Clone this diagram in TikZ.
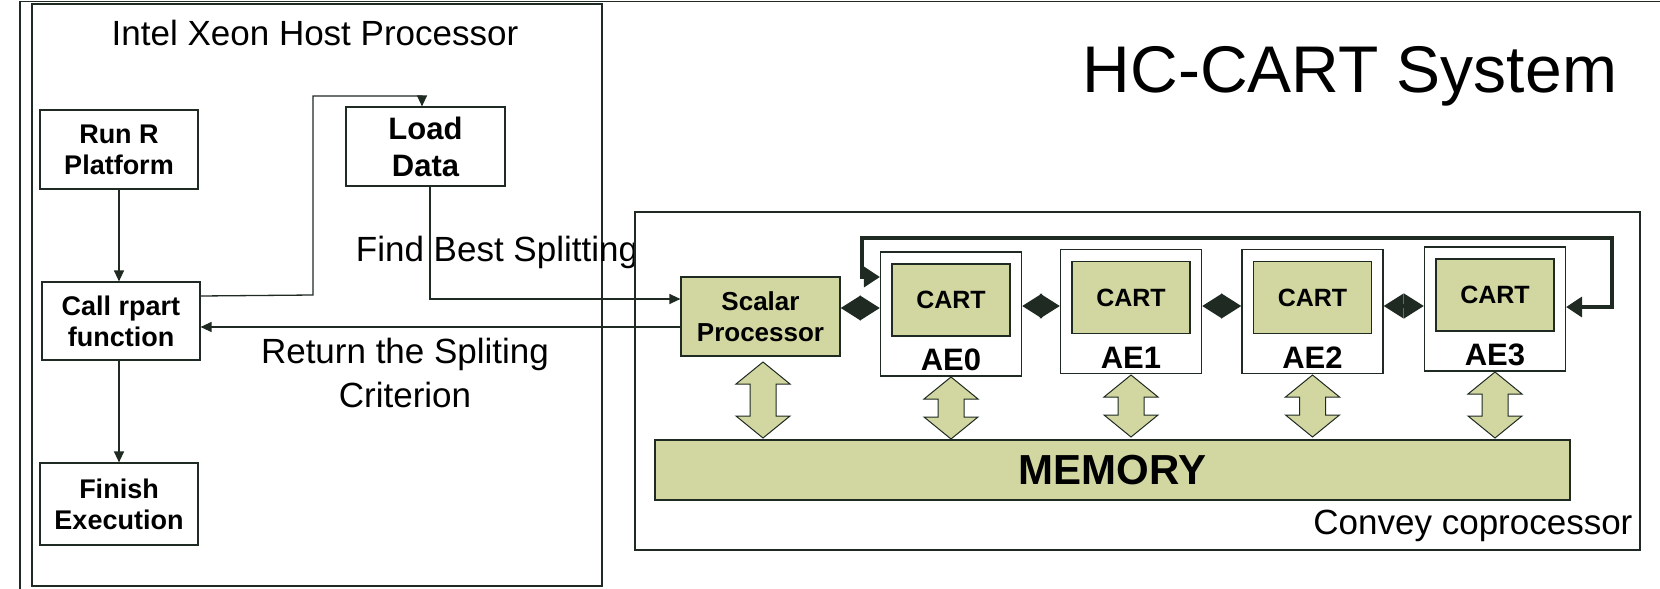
\documentclass[tikz,border=0pt]{standalone}
\usepackage{fontspec}
\setmainfont{Liberation Sans}
\usetikzlibrary{arrows.meta}
\definecolor{olive}{HTML}{D2D6A0}
\definecolor{ln}{HTML}{1E2A22}
\begin{document}
\begin{tikzpicture}[x=1pt,y=-1pt,
  box/.style={draw=ln,line width=1.2pt,inner sep=0pt,align=center,font=\fontsize{27}{31}\selectfont\bfseries},
  fbox/.style={box,fill=olive},
  thinarr/.style={draw=ln,line width=1.3pt,-{Triangle[length=11pt,width=10pt]}},
  dbl/.style={draw=ln,line width=4pt,{Triangle[length=20pt,width=24pt]}-{Triangle[length=20pt,width=24pt]}},
  vda/.pic={\draw[ln,line width=1pt,fill=olive] (0,0) -- (27,22) -- (13,22) -- (13,\pgfkeysvalueof{/tikz/vlen}-22) -- (27,\pgfkeysvalueof{/tikz/vlen}-22) -- (0,\pgfkeysvalueof{/tikz/vlen}) -- (-27,\pgfkeysvalueof{/tikz/vlen}-22) -- (-13,\pgfkeysvalueof{/tikz/vlen}-22) -- (-13,22) -- (-27,22) -- cycle;}]
\pgfkeyssetvalue{/tikz/vlen}{70}
\useasboundingbox (0,0) rectangle (1660,589);
\draw[ln,line width=1.2pt] (20,589) -- (20,1.5) -- (1660,1.5);
\node[draw=ln,line width=1.2pt,minimum width=570pt,minimum height=582pt,inner sep=0pt] (host) at (317,295) {};
\node[font=\fontsize{35}{40}\selectfont] (hostt) at (315,33) {Intel Xeon Host Processor};
\node[box,minimum width=158pt,minimum height=79pt] (run) at (119,149.5) {Run R\\Platform};
\node[box,minimum width=159pt,minimum height=79pt,font=\fontsize{31}{37}\selectfont\bfseries] (load) at (425.5,146.5) {Load\\Data};
\node[box,minimum width=158pt,minimum height=78pt] (call) at (121,321) {Call rpart\\function};
\node[box,minimum width=158pt,minimum height=82pt] (fin) at (119,504) {Finish\\Execution};
\draw[thinarr] (run.south) -- (run.south |- call.north);
\draw[thinarr] (call.south -| fin.north) -- (fin.north);
\coordinate (c1) at (313,295);
\coordinate (c2) at (313,96);
\coordinate (c3) at (422,96);
\draw[thinarr] (call.east |- 0,296) -- (c1) -- (c2) -- (c3) -- (c3 |- load.north);
\node[font=\fontsize{35}{40}\selectfont] (fbs) at (497,252) {Find Best Splitting};
\node[font=\fontsize{35}{44}\selectfont,align=center] (ret) at (405,373) {Return the Spliting\\Criterion};
\node[font=\fontsize{66}{76}\selectfont] (hc) at (1350,76) {HC-CART System};
\node[draw=ln,line width=1.2pt,minimum width=1005pt,minimum height=338pt,inner sep=0pt] (conv) at (1137.5,381) {};
\node[font=\fontsize{35}{40}\selectfont,anchor=south east] (convt) at (1636,545) {Convey coprocessor};
\node[fbox,minimum width=159pt,minimum height=79pt,font=\fontsize{26}{31}\selectfont\bfseries] (sp) at (760.5,316.5) {Scalar\\Processor};
\coordinate (d1) at (430,299);
\draw[thinarr] (load.south -| d1) -- (d1) -- (d1 -| sp.west);
\draw[thinarr] (sp.west |- 0,327) -- (call.east |- 0,327);
\foreach \i/\x/\y in {0/951/314,1/1131/311.5,2/1312.5/311.5,3/1495/309}{
  \node[draw=ln,line width=1.2pt,minimum width=141pt,minimum height=124pt,inner sep=0pt] (ae\i) at (\x,\y) {};
  \node[fbox,minimum width=118pt,minimum height=72pt,font=\fontsize{25}{30}\selectfont\bfseries] (cart\i) at (\x,\y-14) {CART};
  \node[font=\fontsize{31}{36}\selectfont\bfseries] (lab\i) at (\x,\y+46) {AE\i};
}
\draw[dbl] (sp.east |- 0,308) -- (ae0.west |- 0,308);
\draw[dbl] (ae0.east |- 0,306) -- (ae1.west |- 0,306);
\draw[dbl] (ae1.east |- 0,306) -- (ae2.west |- 0,306);
\draw[dbl] (ae2.east |- 0,306) -- (ae3.west |- 0,306);
\coordinate (l1) at (862,277);
\coordinate (l2) at (862,238);
\coordinate (l3) at (1612,238);
\coordinate (l4) at (1612,307);
\draw[draw=ln,line width=3.5pt,{Triangle[length=16pt,width=20pt]}-{Triangle[length=16pt,width=20pt]}] (ae0.west |- l1) -- (l1) -- (l2) -- (l3) -- (l4) -- (ae3.east |- l4);
\node[fbox,minimum width=915pt,minimum height=60pt,font=\fontsize{42}{48}\selectfont\bfseries] (mem) at (1112.5,470) {MEMORY};
\pgfkeyssetvalue{/tikz/vlen}{76}
\pic at (763,362) {vda};
\pgfkeyssetvalue{/tikz/vlen}{62}
\pic at (951,377) {vda};
\pic at (1131,375) {vda};
\pic at (1312.5,375) {vda};
\pgfkeyssetvalue{/tikz/vlen}{66}
\pic at (1495,372) {vda};
\end{tikzpicture}
\end{document}
